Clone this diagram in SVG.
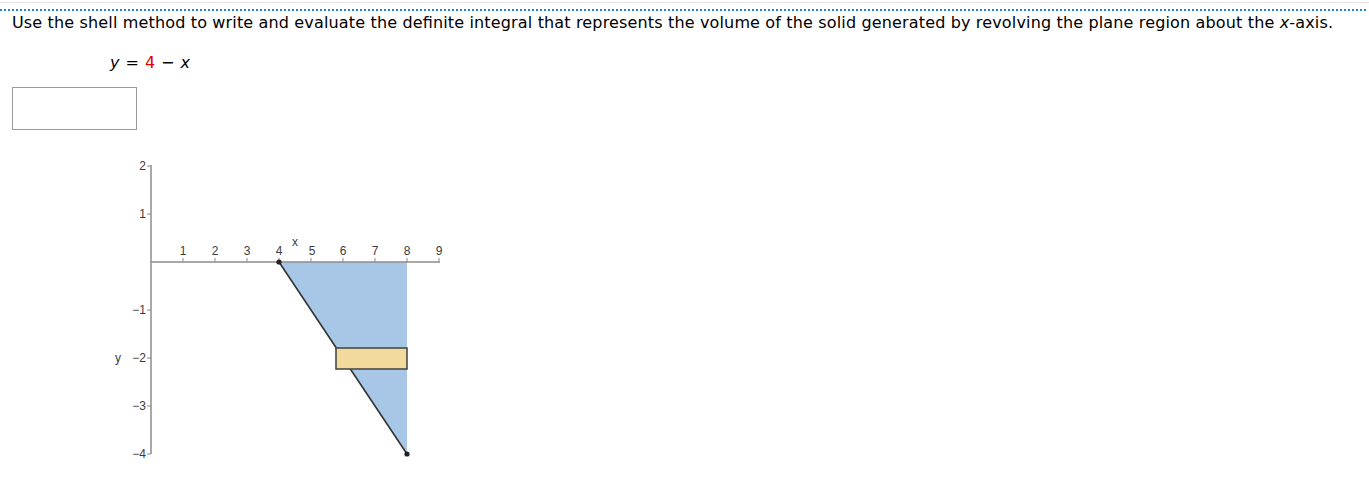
<svg xmlns="http://www.w3.org/2000/svg" width="1369" height="495" viewBox="0 0 1369 495">
<style>
.q{font-family:"DejaVu Sans",Verdana,sans-serif;font-size:16px;fill:#000}
.ax{stroke:#8c8c8c;stroke-width:1.5;fill:none}
.tk{stroke:#8c8c8c;stroke-width:1;fill:none}
.lb{font-family:"Liberation Sans",Arial,sans-serif;font-size:12px;fill:#3c3c3c}
</style>
<rect width="1369" height="495" fill="#fff"/>
<line x1="0" y1="2.5" x2="1369" y2="2.5" stroke="#e0e0e0" stroke-width="1"/>
<line x1="0" y1="10" x2="1366" y2="10" stroke="#1a84e0" stroke-width="2" stroke-dasharray="2 2"/>
<g id="question">
<text class="q" x="12" y="28" textLength="1321" lengthAdjust="spacing">Use the shell method to write and evaluate the definite integral that represents the volume of the solid generated by revolving the plane region about the <tspan font-style="italic">x</tspan>-axis.</text>
</g>
<g id="equation">
<text class="q" x="110" y="68" textLength="80" lengthAdjust="spacing"><tspan font-style="italic">y</tspan> = <tspan fill="#e00000">4</tspan> − <tspan font-style="italic">x</tspan></text>
</g>
<g id="answer-box">
<rect x="12.5" y="87.5" width="124" height="42" fill="#fff" stroke="#9a9a9a" stroke-width="1"/>
</g>
<g id="region">
<polygon points="279,262 407,262 407,454" fill="#a8c7e7"/>
</g>
<g id="connectors">
<g id="axes">
<line class="ax" x1="151" y1="165" x2="151" y2="454"/>
<line class="ax" x1="151" y1="262" x2="440" y2="262"/>
<path class="tk" d="M147,166H151M147,214H151M147,310H151M147,358H151M147,406H151M147,454H151"/>
<path class="tk" d="M183,258V262M215,258V262M247,258V262M279,258V262M311,258V262M343,258V262M375,258V262M407,258V262M439,258V262"/>
</g>
<line x1="279" y1="262" x2="407" y2="454" stroke="#333" stroke-width="1.6"/>
</g>
<g id="shell">
<rect x="336" y="348" width="71" height="21" fill="#f2da9c" stroke="#4a4a45" stroke-width="1.6"/>
</g>
<g id="points">
<circle cx="279" cy="262" r="2.6" fill="#222"/>
<circle cx="407" cy="454" r="2.6" fill="#222"/>
</g>
<g id="labels">
<g class="lb" text-anchor="middle">
<text x="183" y="255">1</text><text x="215" y="255">2</text><text x="247" y="255">3</text><text x="279" y="255">4</text><text x="312" y="255">5</text><text x="343" y="255">6</text><text x="375" y="255">7</text><text x="407" y="255">8</text><text x="439" y="255">9</text>
<text x="295" y="246">x</text>
</g>
<g class="lb" text-anchor="end">
<text x="146" y="170">2</text><text x="146" y="218">1</text><text x="146" y="314">−1</text><text x="146" y="362">−2</text><text x="146" y="410">−3</text><text x="146" y="458">−4</text>
</g>
<text class="lb" x="118" y="362" text-anchor="middle">y</text>
</g>
</svg>
